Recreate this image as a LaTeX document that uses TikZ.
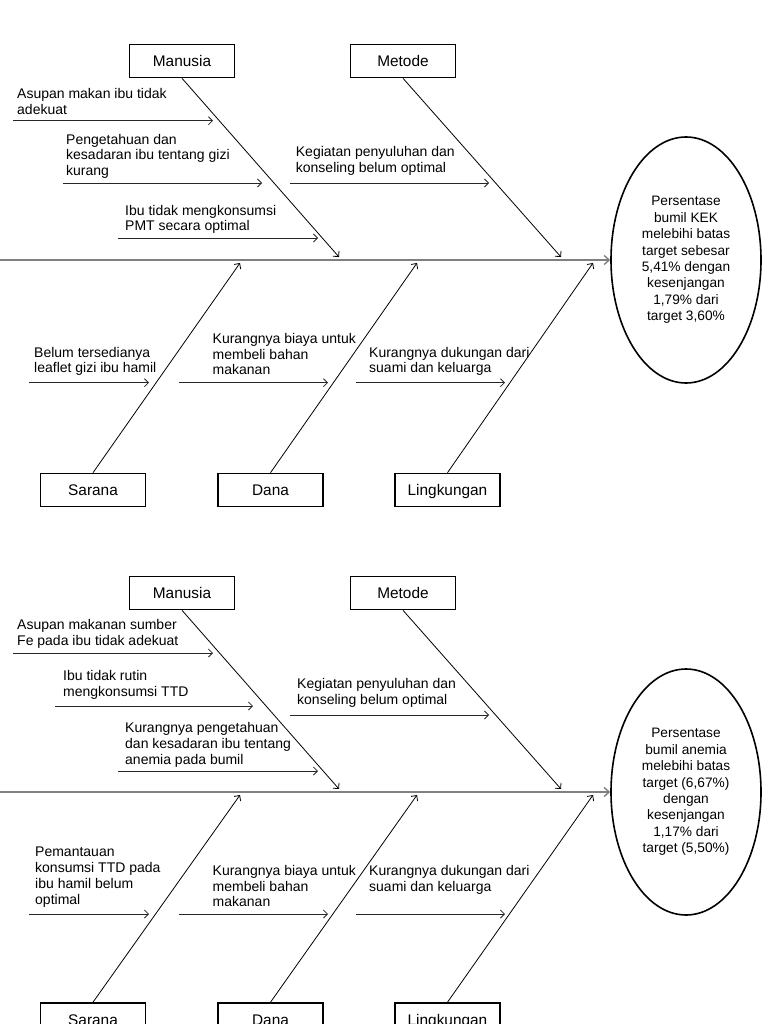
\documentclass[tikz,border=0pt]{standalone}
\usepackage{fontspec}
\setmainfont{Liberation Sans}
\usetikzlibrary{arrows.meta,shapes.geometric}
\begin{document}
\begin{tikzpicture}[x=1pt,y=-1pt,
  lbl/.style={font=\fontsize{14}{15.8}\selectfont, align=left, anchor=north west, inner sep=0pt},
  catbox/.style={draw, line width=1.6pt, minimum width=105pt, minimum height=33pt, inner sep=0pt, text height=12pt, text depth=1pt, font=\fontsize{15.4}{17}\selectfont},
  effect/.style={draw, ellipse, line width=1.6pt, minimum width=150pt, minimum height=246pt, inner sep=0pt, align=center, font=\fontsize{13.7}{16.4}\selectfont},
  bone/.style={line width=0.8pt, -{Straight Barb[length=4pt,width=8pt]}},
  spine/.style={line width=1.4pt, black!50, -{Straight Barb[length=5pt,width=9pt]}},
  twig/.style={line width=0.8pt, black!85, -{Straight Barb[length=4pt,width=8pt]}}
]
\useasboundingbox (0,0) rectangle (768,1024);

% ================= TOP DIAGRAM =================
\node[catbox] (m1) at (182,61) {Manusia};
\node[catbox] (t1) at (403,61) {Metode};
\node[catbox] (s1) at (93,490) {Sarana};
\node[catbox] (d1) at (270.5,490) {Dana};
\node[catbox] (l1) at (447.5,490) {Lingkungan};
\node[effect] (e1) at (686,260) {Persentase\\bumil KEK\\melebihi batas\\target sebesar\\5,41\% dengan\\kesenjangan\\1,79\% dari\\target 3,60\%};

\coordinate (sp1) at (0,260);
\draw[spine] (sp1) -- (e1.west);

\coordinate (m1tip) at (339,257);
\coordinate (t1tip) at (561,257);
\coordinate (s1tip) at (240,263);
\coordinate (d1tip) at (417,263);
\coordinate (l1tip) at (593,263);
\draw[bone] (m1.south) -- (m1tip);
\draw[bone] (t1.south) -- (t1tip);
\draw[bone] (s1.north) -- (s1tip);
\draw[bone] (d1.north) -- (d1tip);
\draw[bone] (l1.north) -- (l1tip);

\node[lbl] (c11) at (17,88.1) {Asupan makan ibu tidak\\adekuat};
\node[lbl] (c12) at (66,133.8) {Pengetahuan dan\\kesadaran ibu tentang gizi\\kurang};
\node[lbl] (c13) at (125,204.8) {Ibu tidak mengkonsumsi\\PMT secara optimal};
\node[lbl] (c14) at (295.7,146.5) {Kegiatan penyuluhan dan\\konseling belum optimal};
\node[lbl] (c15) at (34,346.8) {Belum tersedianya\\leaflet gizi ibu hamil};
\node[lbl] (c16) at (212.5,333) {Kurangnya biaya untuk\\membeli bahan\\makanan};
\node[lbl] (c17) at (369,346.8) {Kurangnya dukungan dari\\suami dan keluarga};

\coordinate (a11s) at (13,120.7);  \coordinate (a11e) at (213,120.7);
\coordinate (a12s) at (63,183);    \coordinate (a12e) at (262,183);
\coordinate (a13s) at (118,238);   \coordinate (a13e) at (318,238);
\coordinate (a14s) at (290,183);   \coordinate (a14e) at (489,183);
\coordinate (a15s) at (29,382.7);  \coordinate (a15e) at (149,382.7);
\coordinate (a16s) at (179,382.7); \coordinate (a16e) at (328,382.7);
\coordinate (a17s) at (356,382.7); \coordinate (a17e) at (505,382.7);
\foreach \i in {11,...,17} {\draw[twig] (a\i s) -- (a\i e);}

% ================= BOTTOM DIAGRAM =================
\node[catbox] (m2) at (182,593) {Manusia};
\node[catbox] (t2) at (403,593) {Metode};
\node[catbox] (s2) at (93,1019.5) {Sarana};
\node[catbox] (d2) at (270.5,1019.5) {Dana};
\node[catbox] (l2) at (447.5,1019.5) {Lingkungan};
\node[effect] (e2) at (686,792) {Persentase\\bumil anemia\\melebihi batas\\target (6,67\%)\\dengan\\kesenjangan\\1,17\% dari\\target (5,50\%)};

\coordinate (sp2) at (0,792);
\draw[spine] (sp2) -- (e2.west);

\coordinate (m2tip) at (339,789);
\coordinate (t2tip) at (561,789);
\coordinate (s2tip) at (240,795);
\coordinate (d2tip) at (417,795);
\coordinate (l2tip) at (593,795);
\draw[bone] (m2.south) -- (m2tip);
\draw[bone] (t2.south) -- (t2tip);
\draw[bone] (s2.north) -- (s2tip);
\draw[bone] (d2.north) -- (d2tip);
\draw[bone] (l2.north) -- (l2tip);

\node[lbl] (c21) at (17,619.2) {Asupan makanan sumber\\Fe pada ibu tidak adekuat};
\node[lbl] (c22) at (63,670.5) {Ibu tidak rutin\\mengkonsumsi TTD};
\node[lbl] (c23) at (125,722.5) {Kurangnya pengetahuan\\dan kesadaran ibu tentang\\anemia pada bumil};
\node[lbl] (c24) at (297,678) {Kegiatan penyuluhan dan\\konseling belum optimal};
\node[lbl] (c25) at (35,847) {Pemantauan\\konsumsi TTD pada\\ibu hamil belum\\optimal};
\node[lbl] (c26) at (212.5,865) {Kurangnya biaya untuk\\membeli bahan\\makanan};
\node[lbl] (c27) at (369,865) {Kurangnya dukungan dari\\suami dan keluarga};

\coordinate (a21s) at (13,653);  \coordinate (a21e) at (213,653);
\coordinate (a22s) at (55,706);  \coordinate (a22e) at (253,706);
\coordinate (a23s) at (118,771); \coordinate (a23e) at (318,771);
\coordinate (a24s) at (290,715); \coordinate (a24e) at (489,715);
\coordinate (a25s) at (29,914);  \coordinate (a25e) at (149,914);
\coordinate (a26s) at (179,914); \coordinate (a26e) at (328,914);
\coordinate (a27s) at (356,914); \coordinate (a27e) at (505,914);
\foreach \i in {21,...,27} {\draw[twig] (a\i s) -- (a\i e);}
\end{tikzpicture}
\end{document}
